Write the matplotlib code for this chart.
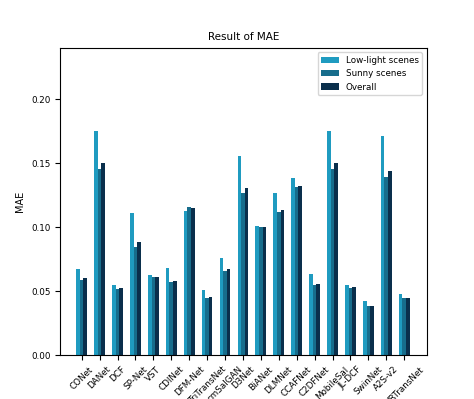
import numpy as np
import matplotlib
matplotlib.use('Agg')
import matplotlib.pyplot as plt

# data
models = ['CONet', 'DANet', 'DCF', 'SP-Net', 'VST', 'CDINet', 'DFM-Net', 'TriTransNet',
          'cmSalGAN', 'D3Net', 'BiANet', 'DLMNet', 'CCAFNet', 'C2DFNet', 'MobileSal',
          'JL-DCF', 'SwinNet', 'A2S-v2', 'HRTransNet']
low_light = [0.067, 0.175, 0.055, 0.111, 0.0625, 0.068, 0.1125, 0.051, 0.0755, 0.1555,
             0.101, 0.127, 0.138, 0.063, 0.175, 0.055, 0.042, 0.171, 0.048]
sunny = [0.059, 0.145, 0.052, 0.0846, 0.0614, 0.0568, 0.1156, 0.0448, 0.0656, 0.1268,
         0.0997, 0.1115, 0.1315, 0.0547, 0.145, 0.0526, 0.038, 0.1393, 0.045]
overall = [0.060, 0.1497, 0.0523, 0.088, 0.0614, 0.058, 0.115, 0.0456, 0.0672, 0.1307,
           0.1002, 0.1133, 0.132, 0.0557, 0.1497, 0.0529, 0.0383, 0.1438, 0.045]

plt.rcParams['font.size'] = 6.3
fig = plt.figure(figsize=(4.74, 3.99), dpi=100)
plt.subplots_adjust(left=0.127, right=0.9, top=0.88, bottom=0.11)

x = np.arange(len(models))
w = 0.2
plt.bar(x - w, low_light, w, color='#1f9bc0', label='Low-light scenes')
plt.bar(x, sunny, w, color='#176d8c', label='Sunny scenes')
plt.bar(x + w, overall, w, color='#0a2f4c', label='Overall')

plt.title('Result of MAE', fontsize=7.5)
plt.ylabel('MAE', fontsize=7)
plt.xticks(x, models, rotation=45)
plt.xlim(-1.2, 19.25)
plt.ylim(0, 0.24)
plt.yticks([0.0, 0.05, 0.10, 0.15, 0.20])
plt.legend(loc='upper right')
plt.savefig('out.png')
